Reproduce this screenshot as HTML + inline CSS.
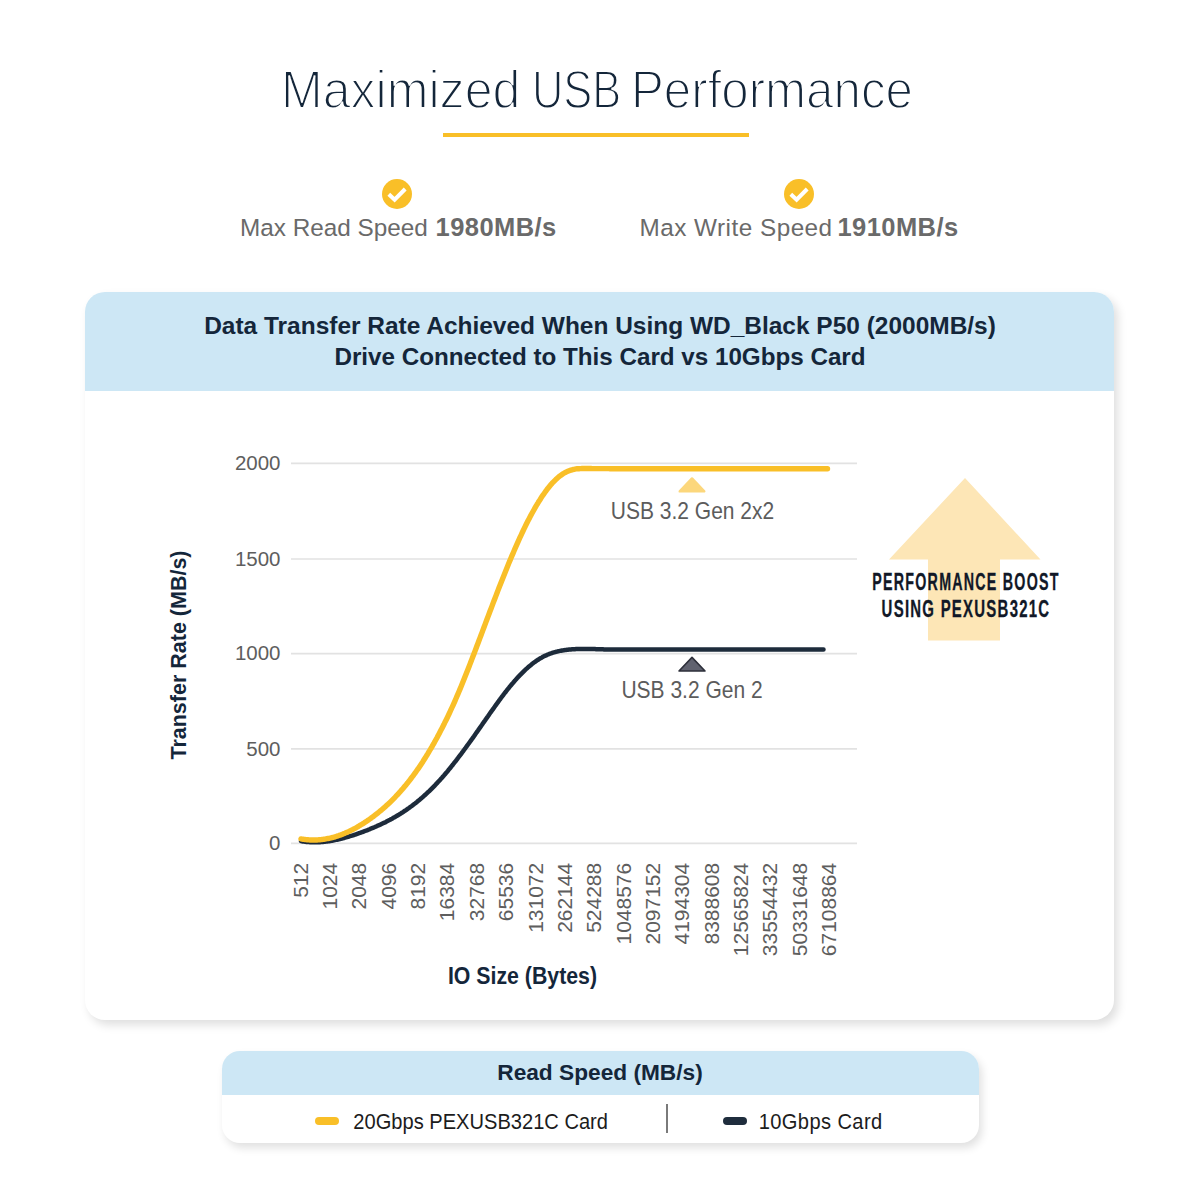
<!DOCTYPE html>
<html><head><meta charset="utf-8"><style>
html,body{margin:0;padding:0;width:1200px;height:1200px;overflow:hidden;background:#fff}
body{position:relative;font-family:"Liberation Sans", sans-serif}
.t{position:absolute;white-space:nowrap;line-height:1;font-family:"Liberation Sans", sans-serif}
b{font-weight:700}
</style></head><body>
<div class="t" style="left:281.2px;top:64.2px;font-size:52.5px;font-weight:400;color:#14263a;transform:scale(0.954,1.03);transform-origin:0 44.45px;-webkit-text-stroke:1.8px #fff;">Maximized</div>
<div class="t" style="left:531.9px;top:64.2px;font-size:52.5px;font-weight:400;color:#14263a;transform:scale(0.827,1.03);transform-origin:0 44.45px;-webkit-text-stroke:1.8px #fff;">USB</div>
<div class="t" style="left:631.2px;top:64.2px;font-size:52.5px;font-weight:400;color:#14263a;transform:scale(0.938,1.03);transform-origin:0 44.45px;-webkit-text-stroke:1.8px #fff;">Performance</div>
<div style="position:absolute;left:443px;top:133px;width:306px;height:4px;background:#f9bf28"></div>
<svg style="position:absolute;left:382.0px;top:179px" width="30" height="30" viewBox="0 0 30 30"><circle cx="15" cy="15" r="15" fill="#f9bf28"/><path d="M6.8 15.2 L12.6 20.6 L23.2 10" fill="none" stroke="#fff" stroke-width="4" stroke-linecap="butt" stroke-linejoin="miter"/></svg>
<svg style="position:absolute;left:783.5px;top:179px" width="30" height="30" viewBox="0 0 30 30"><circle cx="15" cy="15" r="15" fill="#f9bf28"/><path d="M6.8 15.2 L12.6 20.6 L23.2 10" fill="none" stroke="#fff" stroke-width="4" stroke-linecap="butt" stroke-linejoin="miter"/></svg>
<div class="t" style="left:240.0px;top:215.4px;font-size:24.3px;font-weight:400;color:#6a6a6a;">Max Read Speed <b style="font-size:25.5px;margin-left:1px;letter-spacing:0.45px">1980MB/s</b></div>
<div class="t" style="left:639.5px;top:215.4px;font-size:24.3px;font-weight:400;color:#6a6a6a;"><span style="letter-spacing:0.48px">Max Write Speed</span> <b style="font-size:25.5px;margin-left:-2px;letter-spacing:0.45px">1910MB/s</b></div>
<div style="position:absolute;left:85px;top:292px;width:1029px;height:728px;border-radius:20px;background:#fff;box-shadow:4px 5px 10px rgba(0,0,0,0.13);overflow:hidden"><div style="height:99px;background:#cde7f5"></div></div>
<div class="t" style="left:99.6px;width:1000px;text-align:center;top:314.3px;font-size:24.4px;font-weight:700;color:#14263a;transform:scale(1.003,1.0);transform-origin:50% 20.66px;">Data Transfer Rate Achieved When Using WD_Black P50 (2000MB/s)</div>
<div class="t" style="left:100.0px;width:1000px;text-align:center;top:345.3px;font-size:24.4px;font-weight:700;color:#14263a;transform:scale(0.992,1.0);transform-origin:50% 20.66px;">Drive Connected to This Card vs 10Gbps Card</div>
<svg style="position:absolute;left:0;top:0" width="1200" height="1200" viewBox="0 0 1200 1200"><line x1="291" y1="463.4" x2="857" y2="463.4" stroke="#e2e2e2" stroke-width="1.6"/><line x1="291" y1="559.0" x2="857" y2="559.0" stroke="#e2e2e2" stroke-width="1.6"/><line x1="291" y1="653.6" x2="857" y2="653.6" stroke="#e2e2e2" stroke-width="1.6"/><line x1="291" y1="748.9" x2="857" y2="748.9" stroke="#e2e2e2" stroke-width="1.6"/><line x1="291" y1="843.4" x2="857" y2="843.4" stroke="#e2e2e2" stroke-width="1.6"/><path d="M301.0,841.1 L302.0,841.3 L303.0,841.5 L304.0,841.6 L305.0,841.7 L306.0,841.9 L307.0,842.0 L308.0,842.1 L309.0,842.1 L310.0,842.2 L311.0,842.2 L312.0,842.3 L313.0,842.3 L314.0,842.3 L315.0,842.3 L316.0,842.3 L317.0,842.3 L318.0,842.3 L319.0,842.2 L320.0,842.2 L321.0,842.1 L322.0,842.0 L323.0,841.9 L324.0,841.8 L325.0,841.7 L326.0,841.6 L327.0,841.5 L328.0,841.3 L329.0,841.2 L330.0,841.0 L331.0,840.9 L332.0,840.7 L333.0,840.5 L334.0,840.3 L335.0,840.1 L336.0,839.9 L337.0,839.7 L338.0,839.5 L339.0,839.2 L340.0,839.0 L341.0,838.7 L342.0,838.5 L343.0,838.2 L344.0,838.0 L345.0,837.7 L346.0,837.4 L347.0,837.1 L348.0,836.8 L349.0,836.5 L350.0,836.2 L351.0,835.9 L352.0,835.6 L353.0,835.3 L354.0,835.0 L355.0,834.6 L356.0,834.3 L357.0,833.9 L358.0,833.6 L359.0,833.2 L360.0,832.9 L361.0,832.5 L362.0,832.2 L363.0,831.8 L364.0,831.4 L365.0,831.0 L366.0,830.6 L367.0,830.3 L368.0,829.9 L369.0,829.5 L370.0,829.1 L371.0,828.6 L372.0,828.2 L373.0,827.8 L374.0,827.4 L375.0,827.0 L376.0,826.5 L377.0,826.1 L378.0,825.6 L379.0,825.2 L380.0,824.7 L381.0,824.3 L382.0,823.8 L383.0,823.3 L384.0,822.8 L385.0,822.4 L386.0,821.9 L387.0,821.3 L388.0,820.8 L389.0,820.3 L390.0,819.8 L391.0,819.2 L392.0,818.7 L393.0,818.1 L394.0,817.6 L395.0,817.0 L396.0,816.4 L397.0,815.8 L398.0,815.2 L399.0,814.6 L400.0,814.0 L401.0,813.4 L402.0,812.7 L403.0,812.1 L404.0,811.4 L405.0,810.7 L406.0,810.1 L407.0,809.4 L408.0,808.7 L409.0,808.0 L410.0,807.2 L411.0,806.5 L412.0,805.8 L413.0,805.0 L414.0,804.2 L415.0,803.5 L416.0,802.7 L417.0,801.9 L418.0,801.0 L419.0,800.2 L420.0,799.4 L421.0,798.5 L422.0,797.7 L423.0,796.8 L424.0,795.9 L425.0,795.0 L426.0,794.1 L427.0,793.2 L428.0,792.2 L429.0,791.3 L430.0,790.3 L431.0,789.3 L432.0,788.3 L433.0,787.3 L434.0,786.3 L435.0,785.3 L436.0,784.2 L437.0,783.2 L438.0,782.1 L439.0,781.0 L440.0,779.9 L441.0,778.8 L442.0,777.7 L443.0,776.5 L444.0,775.4 L445.0,774.2 L446.0,773.0 L447.0,771.9 L448.0,770.7 L449.0,769.4 L450.0,768.2 L451.0,767.0 L452.0,765.7 L453.0,764.5 L454.0,763.2 L455.0,761.9 L456.0,760.7 L457.0,759.4 L458.0,758.0 L459.0,756.7 L460.0,755.4 L461.0,754.1 L462.0,752.7 L463.0,751.4 L464.0,750.0 L465.0,748.7 L466.0,747.3 L467.0,745.9 L468.0,744.5 L469.0,743.2 L470.0,741.8 L471.0,740.4 L472.0,739.0 L473.0,737.6 L474.0,736.2 L475.0,734.7 L476.0,733.3 L477.0,731.9 L478.0,730.5 L479.0,729.0 L480.0,727.6 L481.0,726.2 L482.0,724.8 L483.0,723.3 L484.0,721.9 L485.0,720.5 L486.0,719.0 L487.0,717.6 L488.0,716.2 L489.0,714.7 L490.0,713.3 L491.0,711.9 L492.0,710.5 L493.0,709.1 L494.0,707.7 L495.0,706.3 L496.0,704.9 L497.0,703.5 L498.0,702.1 L499.0,700.7 L500.0,699.4 L501.0,698.0 L502.0,696.7 L503.0,695.4 L504.0,694.0 L505.0,692.7 L506.0,691.5 L507.0,690.2 L508.0,688.9 L509.0,687.7 L510.0,686.4 L511.0,685.2 L512.0,684.0 L513.0,682.9 L514.0,681.7 L515.0,680.6 L516.0,679.4 L517.0,678.3 L518.0,677.2 L519.0,676.2 L520.0,675.1 L521.0,674.1 L522.0,673.1 L523.0,672.1 L524.0,671.1 L525.0,670.1 L526.0,669.2 L527.0,668.3 L528.0,667.4 L529.0,666.5 L530.0,665.7 L531.0,664.9 L532.0,664.1 L533.0,663.3 L534.0,662.5 L535.0,661.8 L536.0,661.1 L537.0,660.4 L538.0,659.8 L539.0,659.1 L540.0,658.5 L541.0,657.9 L542.0,657.4 L543.0,656.8 L544.0,656.3 L545.0,655.8 L546.0,655.4 L547.0,654.9 L548.0,654.5 L549.0,654.1 L550.0,653.7 L551.0,653.4 L552.0,653.0 L553.0,652.7 L554.0,652.4 L555.0,652.1 L556.0,651.8 L557.0,651.6 L558.0,651.3 L559.0,651.1 L560.0,650.9 L561.0,650.7 L562.0,650.5 L563.0,650.4 L564.0,650.2 L565.0,650.1 L566.0,649.9 L567.0,649.8 L568.0,649.7 L569.0,649.6 L570.0,649.5 L571.0,649.4 L572.0,649.3 L573.0,649.3 L574.0,649.2 L575.0,649.2 L576.0,649.1 L577.0,649.1 L578.0,649.0 L579.0,649.0 L580.0,649.0 L581.0,649.0 L582.0,649.0 L583.0,649.0 L584.0,649.0 L585.0,649.0 L586.0,649.0 L587.0,649.0 L588.0,649.0 L589.0,649.0 L590.0,649.0 L591.0,649.0 L592.0,649.1 L593.0,649.1 L594.0,649.1 L595.0,649.1 L596.0,649.2 L597.0,649.2 L598.0,649.2 L599.0,649.2 L600.0,649.3 L601.0,649.3 L602.0,649.3 L603.0,649.3 L604.0,649.4 L823.5,649.4" fill="none" stroke="#1d2b3b" stroke-width="4.5" stroke-linecap="round" stroke-linejoin="round"/><path d="M301.0,838.9 L302.0,839.1 L303.0,839.2 L304.0,839.4 L305.0,839.5 L306.0,839.6 L307.0,839.7 L308.0,839.8 L309.0,839.9 L310.0,840.0 L311.0,840.0 L312.0,840.0 L313.0,840.0 L314.0,840.0 L315.0,840.0 L316.0,840.0 L317.0,840.0 L318.0,839.9 L319.0,839.8 L320.0,839.7 L321.0,839.6 L322.0,839.5 L323.0,839.4 L324.0,839.2 L325.0,839.1 L326.0,838.9 L327.0,838.7 L328.0,838.5 L329.0,838.3 L330.0,838.1 L331.0,837.9 L332.0,837.6 L333.0,837.3 L334.0,837.1 L335.0,836.8 L336.0,836.5 L337.0,836.2 L338.0,835.8 L339.0,835.5 L340.0,835.1 L341.0,834.8 L342.0,834.4 L343.0,834.0 L344.0,833.6 L345.0,833.2 L346.0,832.7 L347.0,832.3 L348.0,831.8 L349.0,831.4 L350.0,830.9 L351.0,830.4 L352.0,829.9 L353.0,829.4 L354.0,828.8 L355.0,828.3 L356.0,827.8 L357.0,827.2 L358.0,826.6 L359.0,826.0 L360.0,825.4 L361.0,824.8 L362.0,824.2 L363.0,823.6 L364.0,823.0 L365.0,822.3 L366.0,821.6 L367.0,821.0 L368.0,820.3 L369.0,819.6 L370.0,818.9 L371.0,818.2 L372.0,817.4 L373.0,816.7 L374.0,816.0 L375.0,815.2 L376.0,814.4 L377.0,813.6 L378.0,812.8 L379.0,812.0 L380.0,811.2 L381.0,810.4 L382.0,809.5 L383.0,808.7 L384.0,807.8 L385.0,806.9 L386.0,806.0 L387.0,805.1 L388.0,804.2 L389.0,803.3 L390.0,802.3 L391.0,801.3 L392.0,800.3 L393.0,799.3 L394.0,798.3 L395.0,797.3 L396.0,796.2 L397.0,795.2 L398.0,794.1 L399.0,793.0 L400.0,791.9 L401.0,790.8 L402.0,789.6 L403.0,788.5 L404.0,787.3 L405.0,786.1 L406.0,784.9 L407.0,783.6 L408.0,782.4 L409.0,781.1 L410.0,779.8 L411.0,778.5 L412.0,777.2 L413.0,775.9 L414.0,774.5 L415.0,773.1 L416.0,771.7 L417.0,770.3 L418.0,768.9 L419.0,767.4 L420.0,765.9 L421.0,764.4 L422.0,762.9 L423.0,761.4 L424.0,759.8 L425.0,758.2 L426.0,756.6 L427.0,755.0 L428.0,753.4 L429.0,751.7 L430.0,750.0 L431.0,748.3 L432.0,746.6 L433.0,744.8 L434.0,743.1 L435.0,741.3 L436.0,739.5 L437.0,737.7 L438.0,735.8 L439.0,733.9 L440.0,732.0 L441.0,730.1 L442.0,728.2 L443.0,726.2 L444.0,724.3 L445.0,722.2 L446.0,720.2 L447.0,718.2 L448.0,716.1 L449.0,714.0 L450.0,711.9 L451.0,709.7 L452.0,707.5 L453.0,705.3 L454.0,703.1 L455.0,700.8 L456.0,698.5 L457.0,696.2 L458.0,693.9 L459.0,691.5 L460.0,689.1 L461.0,686.7 L462.0,684.3 L463.0,681.8 L464.0,679.3 L465.0,676.8 L466.0,674.3 L467.0,671.8 L468.0,669.3 L469.0,666.7 L470.0,664.1 L471.0,661.5 L472.0,658.9 L473.0,656.3 L474.0,653.7 L475.0,651.1 L476.0,648.5 L477.0,645.8 L478.0,643.2 L479.0,640.5 L480.0,637.9 L481.0,635.2 L482.0,632.6 L483.0,629.9 L484.0,627.2 L485.0,624.6 L486.0,621.9 L487.0,619.3 L488.0,616.6 L489.0,614.0 L490.0,611.3 L491.0,608.7 L492.0,606.1 L493.0,603.4 L494.0,600.8 L495.0,598.2 L496.0,595.6 L497.0,593.0 L498.0,590.4 L499.0,587.8 L500.0,585.3 L501.0,582.7 L502.0,580.2 L503.0,577.7 L504.0,575.2 L505.0,572.7 L506.0,570.2 L507.0,567.7 L508.0,565.3 L509.0,562.8 L510.0,560.4 L511.0,558.0 L512.0,555.6 L513.0,553.3 L514.0,551.0 L515.0,548.6 L516.0,546.4 L517.0,544.1 L518.0,541.8 L519.0,539.6 L520.0,537.4 L521.0,535.3 L522.0,533.1 L523.0,531.0 L524.0,528.9 L525.0,526.8 L526.0,524.8 L527.0,522.8 L528.0,520.8 L529.0,518.9 L530.0,517.0 L531.0,515.1 L532.0,513.3 L533.0,511.5 L534.0,509.7 L535.0,507.9 L536.0,506.2 L537.0,504.5 L538.0,502.9 L539.0,501.2 L540.0,499.7 L541.0,498.1 L542.0,496.6 L543.0,495.1 L544.0,493.7 L545.0,492.3 L546.0,490.9 L547.0,489.5 L548.0,488.2 L549.0,487.0 L550.0,485.8 L551.0,484.6 L552.0,483.4 L553.0,482.3 L554.0,481.3 L555.0,480.3 L556.0,479.3 L557.0,478.4 L558.0,477.5 L559.0,476.7 L560.0,475.9 L561.0,475.2 L562.0,474.5 L563.0,473.8 L564.0,473.2 L565.0,472.7 L566.0,472.1 L567.0,471.6 L568.0,471.2 L569.0,470.8 L570.0,470.4 L571.0,470.1 L572.0,469.8 L573.0,469.5 L574.0,469.3 L575.0,469.1 L576.0,468.9 L577.0,468.8 L578.0,468.7 L579.0,468.7 L580.0,468.6 L581.0,468.6 L582.0,468.5 L583.0,468.5 L584.0,468.5 L585.0,468.5 L586.0,468.5 L587.0,468.5 L588.0,468.5 L589.0,468.5 L590.0,468.5 L591.0,468.5 L592.0,468.6 L593.0,468.6 L594.0,468.6 L595.0,468.6 L596.0,468.6 L597.0,468.6 L598.0,468.6 L599.0,468.6 L600.0,468.6 L601.0,468.6 L602.0,468.6 L603.0,468.6 L604.0,468.6 L605.0,468.6 L606.0,468.6 L607.0,468.6 L608.0,468.6 L609.0,468.6 L610.0,468.7 L611.0,468.7 L612.0,468.7 L613.0,468.7 L614.0,468.7 L615.0,468.7 L616.0,468.7 L617.0,468.7 L618.0,468.7 L619.0,468.7 L620.0,468.7 L621.0,468.7 L622.0,468.7 L623.0,468.7 L624.0,468.7 L625.0,468.8 L626.0,468.8 L627.0,468.8 L827.5,468.8" fill="none" stroke="#f9bf28" stroke-width="5.4" stroke-linecap="round" stroke-linejoin="round"/><path d="M692,478.4 L704.3,491.4 L679.7,491.4 Z" fill="#fcd77c" stroke="#fcd77c" stroke-width="2.4" stroke-linejoin="round"/><path d="M692,657.4 L705,671 L679,671 Z" fill="#60626f" stroke="#2d2f3a" stroke-width="1.6" stroke-linejoin="round"/><path d="M965,478 L1040.5,559.5 L1000,559.5 L1000,640.5 L928,640.5 L928,559.5 L889,559.5 Z" fill="#fde6b6"/></svg>
<div class="t" style="left:-719.5px;width:1000px;text-align:right;top:453.0px;font-size:20.5px;font-weight:400;color:#5e5e5e;">2000</div>
<div class="t" style="left:-719.5px;width:1000px;text-align:right;top:548.6px;font-size:20.5px;font-weight:400;color:#5e5e5e;">1500</div>
<div class="t" style="left:-719.5px;width:1000px;text-align:right;top:643.2px;font-size:20.5px;font-weight:400;color:#5e5e5e;">1000</div>
<div class="t" style="left:-719.5px;width:1000px;text-align:right;top:738.5px;font-size:20.5px;font-weight:400;color:#5e5e5e;">500</div>
<div class="t" style="left:-719.5px;width:1000px;text-align:right;top:833.0px;font-size:20.5px;font-weight:400;color:#5e5e5e;">0</div>
<div class="t" style="left:28.69999999999999px;top:642.5px;width:300px;height:24px;line-height:24px;text-align:center;font-size:21.5px;font-weight:700;color:#14263a;transform:rotate(-90deg);transform-origin:150px 12px">Transfer Rate (MB/s)</div>
<div class="t" style="left:107.7px;top:845.2px;width:200px;text-align:right;font-size:21px;color:#5e5e5e;transform-origin:200px 17.78px;transform:translate(0px,0) rotate(-90deg)">512</div>
<div class="t" style="left:137.1px;top:845.2px;width:200px;text-align:right;font-size:21px;color:#5e5e5e;transform-origin:200px 17.78px;transform:translate(0px,0) rotate(-90deg)">1024</div>
<div class="t" style="left:166.4px;top:845.2px;width:200px;text-align:right;font-size:21px;color:#5e5e5e;transform-origin:200px 17.78px;transform:translate(0px,0) rotate(-90deg)">2048</div>
<div class="t" style="left:195.8px;top:845.2px;width:200px;text-align:right;font-size:21px;color:#5e5e5e;transform-origin:200px 17.78px;transform:translate(0px,0) rotate(-90deg)">4096</div>
<div class="t" style="left:225.1px;top:845.2px;width:200px;text-align:right;font-size:21px;color:#5e5e5e;transform-origin:200px 17.78px;transform:translate(0px,0) rotate(-90deg)">8192</div>
<div class="t" style="left:254.4px;top:845.2px;width:200px;text-align:right;font-size:21px;color:#5e5e5e;transform-origin:200px 17.78px;transform:translate(0px,0) rotate(-90deg)">16384</div>
<div class="t" style="left:283.8px;top:845.2px;width:200px;text-align:right;font-size:21px;color:#5e5e5e;transform-origin:200px 17.78px;transform:translate(0px,0) rotate(-90deg)">32768</div>
<div class="t" style="left:313.1px;top:845.2px;width:200px;text-align:right;font-size:21px;color:#5e5e5e;transform-origin:200px 17.78px;transform:translate(0px,0) rotate(-90deg)">65536</div>
<div class="t" style="left:342.5px;top:845.2px;width:200px;text-align:right;font-size:21px;color:#5e5e5e;transform-origin:200px 17.78px;transform:translate(0px,0) rotate(-90deg)">131072</div>
<div class="t" style="left:371.9px;top:845.2px;width:200px;text-align:right;font-size:21px;color:#5e5e5e;transform-origin:200px 17.78px;transform:translate(0px,0) rotate(-90deg)">262144</div>
<div class="t" style="left:401.2px;top:845.2px;width:200px;text-align:right;font-size:21px;color:#5e5e5e;transform-origin:200px 17.78px;transform:translate(0px,0) rotate(-90deg)">524288</div>
<div class="t" style="left:430.5px;top:845.2px;width:200px;text-align:right;font-size:21px;color:#5e5e5e;transform-origin:200px 17.78px;transform:translate(0px,0) rotate(-90deg)">1048576</div>
<div class="t" style="left:459.9px;top:845.2px;width:200px;text-align:right;font-size:21px;color:#5e5e5e;transform-origin:200px 17.78px;transform:translate(0px,0) rotate(-90deg)">2097152</div>
<div class="t" style="left:489.2px;top:845.2px;width:200px;text-align:right;font-size:21px;color:#5e5e5e;transform-origin:200px 17.78px;transform:translate(0px,0) rotate(-90deg)">4194304</div>
<div class="t" style="left:518.6px;top:845.2px;width:200px;text-align:right;font-size:21px;color:#5e5e5e;transform-origin:200px 17.78px;transform:translate(0px,0) rotate(-90deg)">8388608</div>
<div class="t" style="left:548.0px;top:845.2px;width:200px;text-align:right;font-size:21px;color:#5e5e5e;transform-origin:200px 17.78px;transform:translate(0px,0) rotate(-90deg)">12565824</div>
<div class="t" style="left:577.3px;top:845.2px;width:200px;text-align:right;font-size:21px;color:#5e5e5e;transform-origin:200px 17.78px;transform:translate(0px,0) rotate(-90deg)">33554432</div>
<div class="t" style="left:606.7px;top:845.2px;width:200px;text-align:right;font-size:21px;color:#5e5e5e;transform-origin:200px 17.78px;transform:translate(0px,0) rotate(-90deg)">50331648</div>
<div class="t" style="left:636.0px;top:845.2px;width:200px;text-align:right;font-size:21px;color:#5e5e5e;transform-origin:200px 17.78px;transform:translate(0px,0) rotate(-90deg)">67108864</div>
<div class="t" style="left:22.5px;width:1000px;text-align:center;top:967.0px;font-size:21.3px;font-weight:700;color:#14263a;transform:scale(1.0,1.1);transform-origin:50% 18.03px;">IO Size (Bytes)</div>
<div class="t" style="left:192.5px;width:1000px;text-align:center;top:501.2px;font-size:21px;font-weight:400;color:#5c5c5c;transform:scale(1.0,1.12);transform-origin:50% 17.78px;">USB 3.2 Gen 2x2</div>
<div class="t" style="left:192.0px;width:1000px;text-align:center;top:679.9px;font-size:21px;font-weight:400;color:#5c5c5c;transform:scale(1.0,1.12);transform-origin:50% 17.78px;">USB 3.2 Gen 2</div>
<div class="t" style="left:465.6px;width:1000px;text-align:center;top:571.0px;font-size:23px;font-weight:700;color:#111827;transform:scale(0.62,1.0);transform-origin:50% 19.47px;letter-spacing:2px;-webkit-text-stroke:0.3px #111827;">PERFORMANCE BOOST</div>
<div class="t" style="left:465.6px;width:1000px;text-align:center;top:598.0px;font-size:23px;font-weight:700;color:#111827;transform:scale(0.65,1.0);transform-origin:50% 19.47px;letter-spacing:1.93px;-webkit-text-stroke:0.3px #111827;">USING PEXUSB321C</div>
<div style="position:absolute;left:222px;top:1051px;width:757px;height:92px;border-radius:18px;background:#fff;box-shadow:3px 5px 9px rgba(0,0,0,0.12);overflow:hidden"><div style="height:43.5px;background:#cde7f5"></div></div>
<div class="t" style="left:100.0px;width:1000px;text-align:center;top:1060.8px;font-size:22.7px;font-weight:700;color:#14263a;">Read Speed (MB/s)</div>
<div style="position:absolute;left:315px;top:1116.5px;width:24px;height:8.5px;border-radius:4.25px;background:#f9bf28"></div>
<div class="t" style="left:353.3px;top:1111.5px;font-size:20.1px;font-weight:400;color:#1c1c1c;transform:scale(1.0,1.12);transform-origin:0 17.02px;">20Gbps PEXUSB321C Card</div>
<div style="position:absolute;left:666px;top:1104px;width:1.5px;height:29px;background:#7a7a7a"></div>
<div style="position:absolute;left:723px;top:1116.5px;width:24px;height:8.5px;border-radius:4.25px;background:#1f2d3d"></div>
<div class="t" style="left:758.7px;top:1111.5px;font-size:20.1px;font-weight:400;color:#1c1c1c;transform:scale(1.0,1.12);transform-origin:0 17.02px;letter-spacing:0.4px;">10Gbps Card</div>
</body></html>
